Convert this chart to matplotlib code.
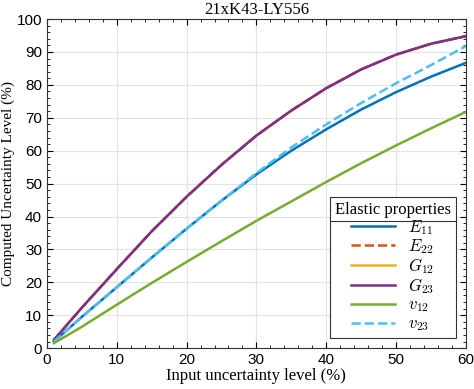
import matplotlib

matplotlib.use("Agg")
import matplotlib.pyplot as plt
from matplotlib.ticker import MultipleLocator

plt.rcParams["mathtext.fontset"] = "cm"

TITLE = "21xK43-LY556"
X = [1, 5, 10, 15, 20, 25, 30, 35, 40, 45, 50, 55, 60]
E11 = [2.0, 9.5, 18.5, 27.5, 36.3, 44.8, 52.8, 60.0, 66.5, 72.5, 77.8, 82.5, 86.7]
E22 = [2.5, 12.3, 24.0, 35.5, 46.0, 55.7, 64.6, 72.2, 79.0, 84.7, 89.2, 92.5, 94.8]
G12 = [2.5, 12.3, 24.0, 35.5, 46.0, 55.7, 64.6, 72.2, 79.0, 84.7, 89.2, 92.5, 94.8]
G23 = [2.5, 12.3, 24.0, 35.5, 46.0, 55.7, 64.6, 72.2, 79.0, 84.7, 89.2, 92.5, 94.8]
V12 = [1.5, 6.5, 13.2, 19.8, 26.2, 32.5, 38.7, 44.6, 50.5, 56.2, 61.6, 66.8, 71.8]
V23 = [2.0, 9.5, 18.5, 27.5, 36.3, 44.8, 53.2, 61.0, 68.0, 74.5, 80.5, 86.0, 91.8]

SERIES = [
    (E11, r"$E_{11}$", "#0072BD", "-"),
    (E22, r"$E_{22}$", "#D95319", "--"),
    (G12, r"$G_{12}$", "#EDB120", "-"),
    (G23, r"$G_{23}$", "#7E2F8E", "-"),
    (V12, r"$v_{12}$", "#77AC30", "-"),
    (V23, r"$v_{23}$", "#4DBEEE", "--"),
]

fig = plt.figure(figsize=(4.74, 3.89), dpi=100)
ax = fig.add_axes([0.099, 0.105, 0.884, 0.846])

# draw order: purple over the red dashes, cyan dashes over blue
order = [2, 1, 3, 0, 5, 4]
handles = {}
for i in order:
    ys, label, color, ls = SERIES[i]
    (h,) = ax.plot(X, ys, color=color, ls=ls, lw=1.8, label=label)
    handles[i] = h

ax.set_xlim(0, 60)
ax.set_ylim(0, 100)
ax.xaxis.set_major_locator(MultipleLocator(10))
ax.yaxis.set_major_locator(MultipleLocator(10))
ax.xaxis.set_minor_locator(MultipleLocator(2))
ax.yaxis.set_minor_locator(MultipleLocator(2))
ax.tick_params(which="both", direction="in", top=True, right=True, labelsize=11)
ax.tick_params(which="major", length=4)
ax.tick_params(which="minor", length=2)
for lbl in ax.get_xticklabels() + ax.get_yticklabels():
    lbl.set_family("Liberation Sans")
ax.grid(True, which="major", color="#e3e3e3", lw=0.8)
for s in ax.spines.values():
    s.set_color("#333333")
    s.set_linewidth(0.8)

ax.set_title(TITLE, family="Liberation Serif", fontsize=12, pad=4)
ax.set_xlabel("Input uncertainty level (%)", family="Liberation Serif", fontsize=12, labelpad=1)
ax.set_ylabel("Computed Uncertainty Level (%)", family="Liberation Serif", fontsize=11, labelpad=1)

leg = ax.legend(
    [handles[i] for i in range(6)],
    [SERIES[i][1] for i in range(6)],
    title="Elastic properties",
    loc="lower right",
    bbox_to_anchor=(0.976, 0.03),
    borderaxespad=0,
    fontsize=12,
    handlelength=2.6,
    labelspacing=0.0,
    borderpad=0.3,
    fancybox=False,
    framealpha=1,
    edgecolor="#333333",
)
leg.get_title().set_family("Liberation Serif")
leg.get_title().set_fontsize(12)
leg.get_frame().set_linewidth(0.8)

# divider under legend title
fig.canvas.draw()
lb = leg.get_window_extent()
tb = leg.get_title().get_window_extent()
inv = fig.transFigure.inverted()
(x0, y0), (x1, y1) = inv.transform([(lb.x0, tb.y0 - 3), (lb.x1, tb.y0 - 3)])
fig.add_artist(plt.Line2D([x0, x1], [y0, y1], color="#333333", lw=0.8))

fig.savefig("out.png", dpi=100)
